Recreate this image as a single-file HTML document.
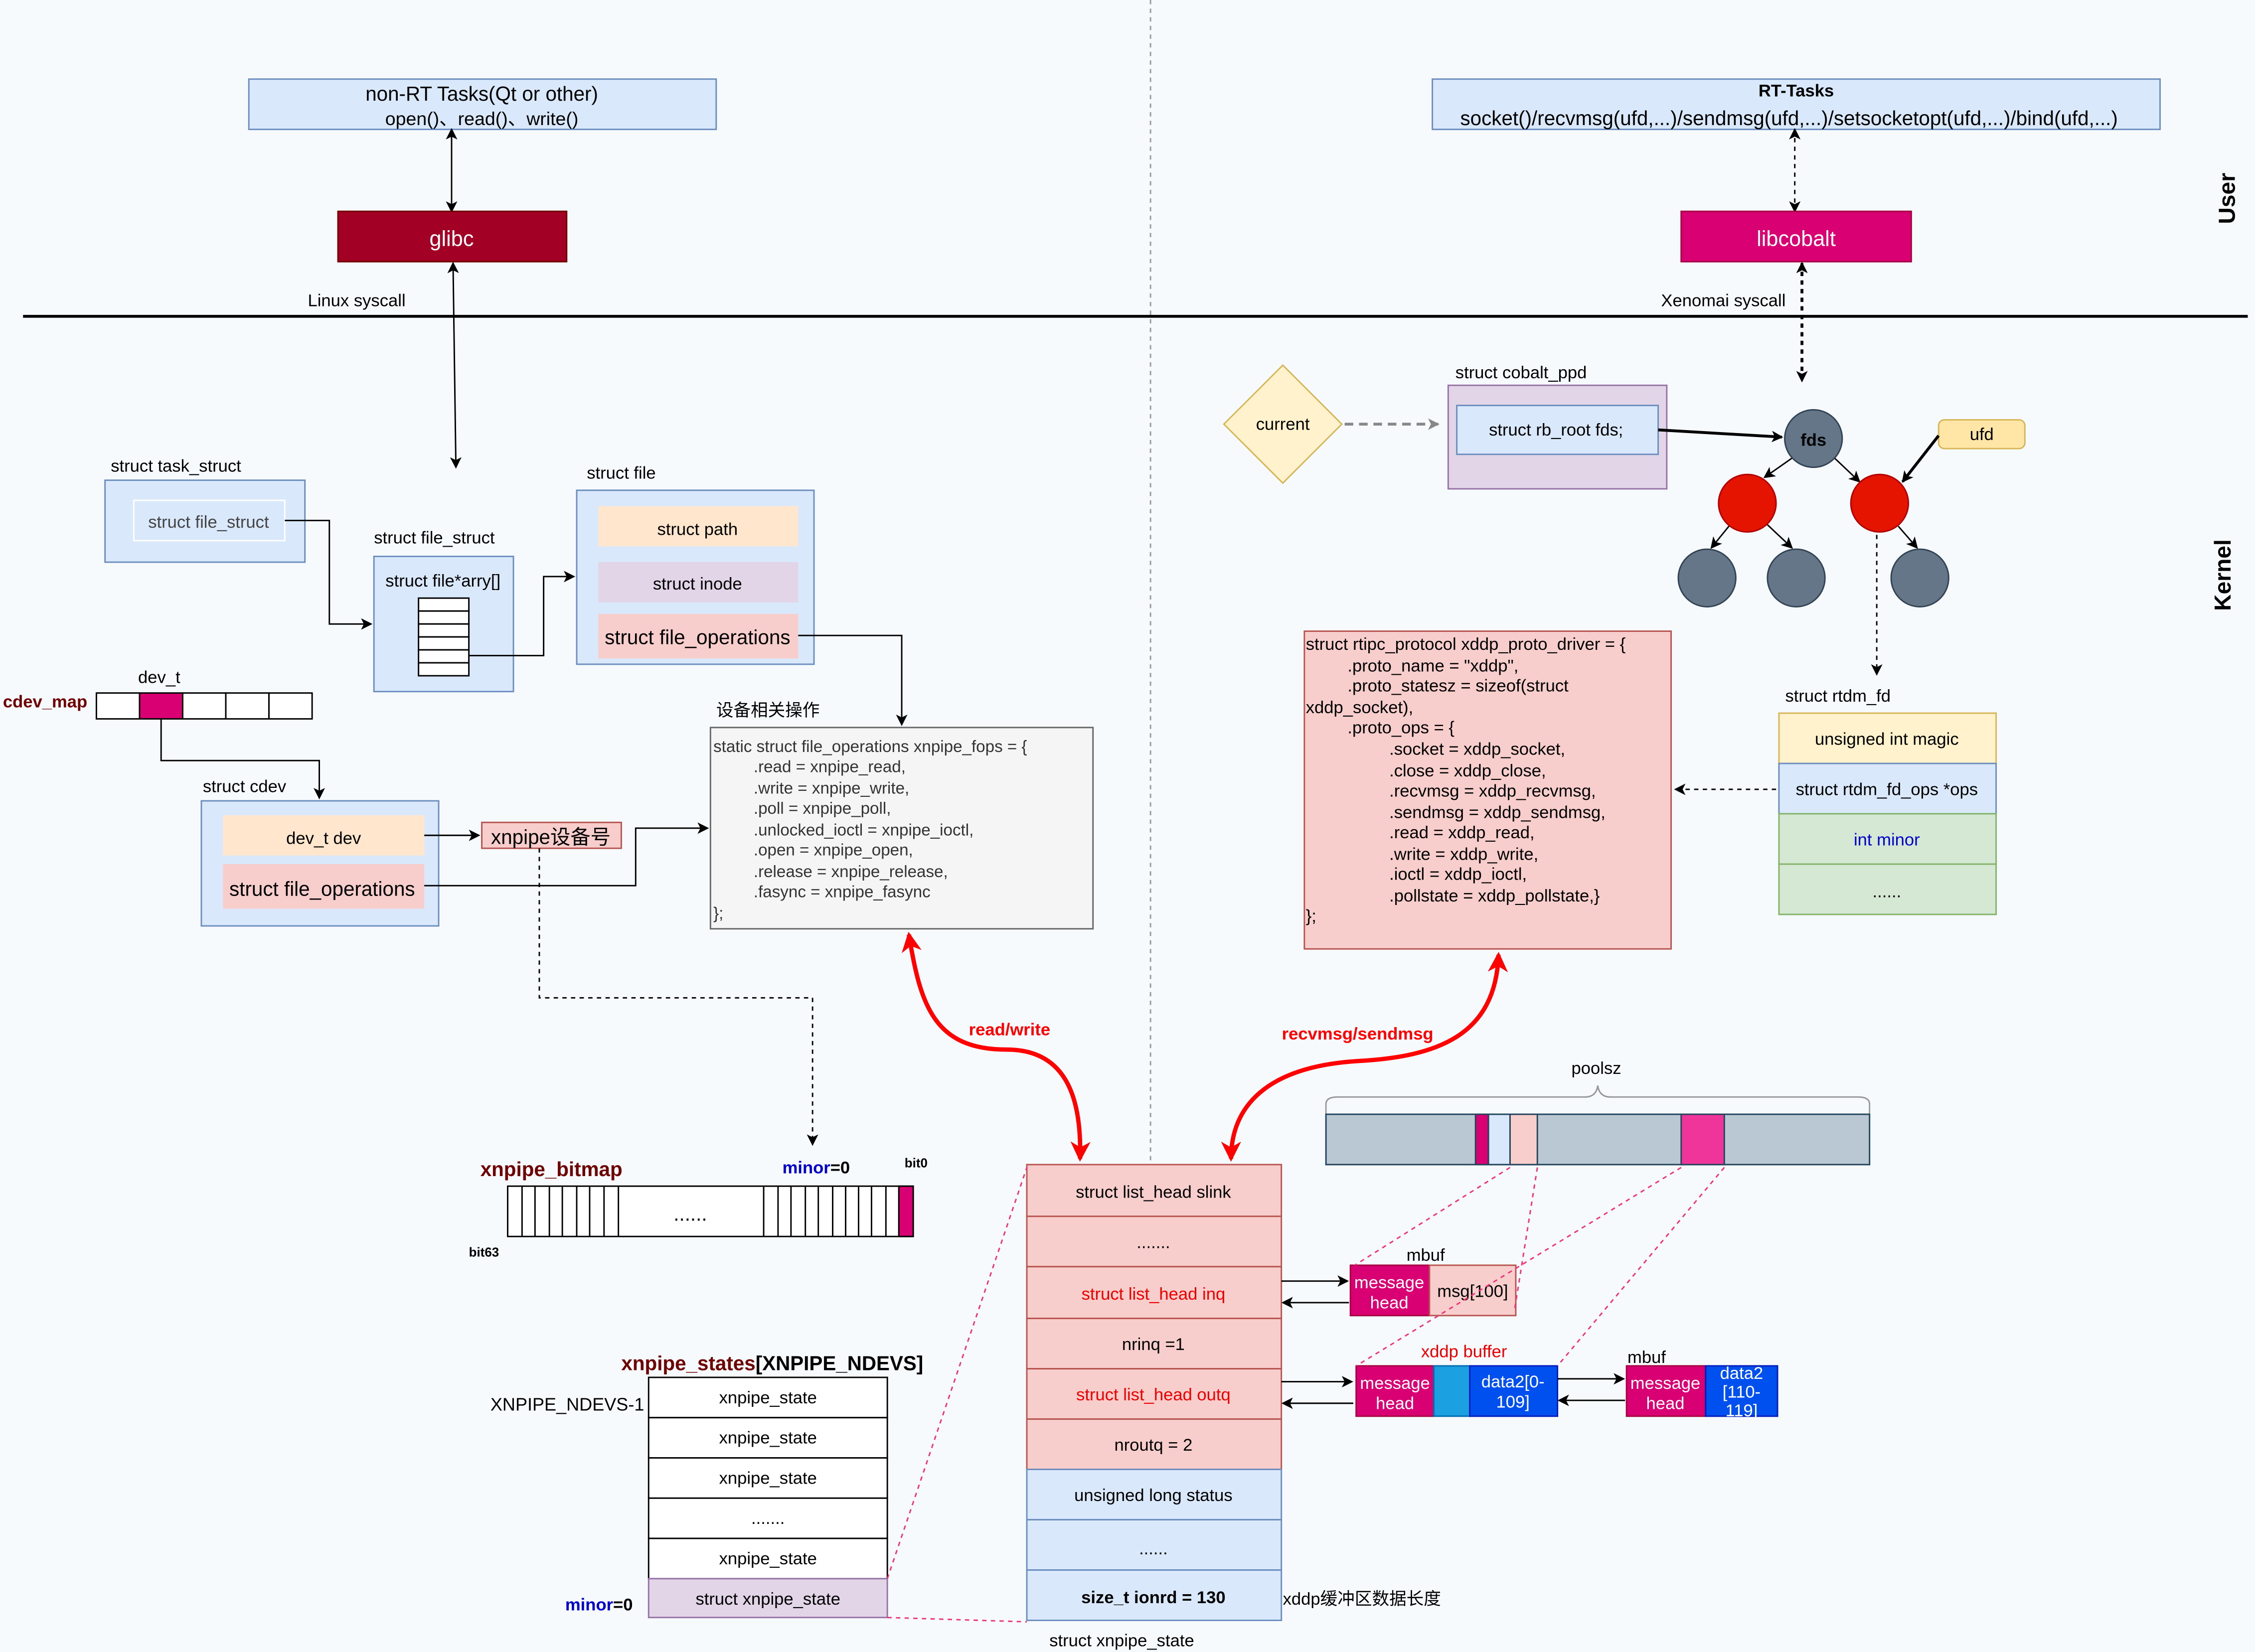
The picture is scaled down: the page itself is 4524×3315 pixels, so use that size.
<!DOCTYPE html>
<html><head><meta charset="utf-8"><style>
html,body{margin:0;padding:0;background:#f7fafd;}
svg{display:block;font-family:"Liberation Sans","Noto Sans CJK SC",sans-serif}
</style></head><body>
<svg width="4524" height="3315" viewBox="0 0 1568 1149" xmlns="http://www.w3.org/2000/svg" font-size="12" fill="#000">
<defs>
<marker id="a" markerWidth="8" markerHeight="8" refX="7" refY="4" orient="auto-start-reverse" markerUnits="userSpaceOnUse"><path d="M0,0 L8,4 L0,8 L2,4z" fill="#000"/></marker>
<marker id="g" markerWidth="8" markerHeight="8" refX="7" refY="4" orient="auto-start-reverse" markerUnits="userSpaceOnUse"><path d="M0,0 L8,4 L0,8 L2,4z" fill="#888"/></marker>
<marker id="r" markerWidth="14" markerHeight="14" refX="12" refY="7" orient="auto-start-reverse" markerUnits="userSpaceOnUse"><path d="M0,0 L14,7 L0,14 L4,7z" fill="#f00"/></marker>
</defs>
<rect width="1568" height="1149" fill="#f7fafd"/>
<line x1="800" y1="0" x2="800" y2="810" stroke="#999" stroke-dasharray="3,3"/>
<line x1="16" y1="220" x2="1563" y2="220" stroke="#000" stroke-width="2"/>
<text x="1554" y="138" font-weight="bold" font-size="16" transform="rotate(-90 1554 138)" text-anchor="middle">User</text>
<text x="1551" y="400" font-weight="bold" font-size="16" transform="rotate(-90 1551 400)" text-anchor="middle">Kernel</text>

<rect x="173" y="55" width="325" height="35" fill="#dae8fc" stroke="#6c8ebf"/>
<text x="335" y="70" text-anchor="middle" font-size="14">non-RT Tasks(Qt or other)</text>
<text x="335" y="87" text-anchor="middle" font-size="13">open()、read()、write()</text>
<line x1="314" y1="90" x2="314" y2="147" stroke="#000" marker-start="url(#a)" marker-end="url(#a)"/>
<rect x="235" y="147" width="159" height="35" fill="#a20025" stroke="#6f0000"/>
<text x="314" y="171" text-anchor="middle" font-size="15" fill="#fff">glibc</text>
<text x="214" y="213">Linux syscall</text>
<line x1="315" y1="183" x2="317" y2="325" stroke="#000" marker-start="url(#a)" marker-end="url(#a)"/>

<rect x="996" y="55" width="506" height="35" fill="#dae8fc" stroke="#6c8ebf"/>
<text x="1249" y="67" text-anchor="middle" font-weight="bold">RT-Tasks</text>
<text x="1244" y="87" text-anchor="middle" font-size="14">socket()/recvmsg(ufd,...)/sendmsg(ufd,...)/setsocketopt(ufd,...)/bind(ufd,...)</text>
<line x1="1248" y1="90" x2="1248" y2="147" stroke="#000" stroke-dasharray="3,3" marker-start="url(#a)" marker-end="url(#a)"/>
<rect x="1169" y="147" width="160" height="35" fill="#d80073" stroke="#a50040"/>
<text x="1249" y="171" text-anchor="middle" font-size="15" fill="#fff">libcobalt</text>
<text x="1155" y="213">Xenomai syscall</text>
<line x1="1253" y1="183" x2="1253" y2="265" stroke="#000" stroke-width="2" stroke-dasharray="3,3" marker-start="url(#a)" marker-end="url(#a)"/>

<text x="77" y="328">struct task_struct</text>
<rect x="73" y="334" width="139" height="57" fill="#dae8fc" stroke="#6c8ebf"/>
<rect x="93" y="348" width="105" height="28" fill="#dae8fc" stroke="#fff"/>
<text x="145" y="367" text-anchor="middle" fill="#444">struct file_struct</text>
<polyline points="198,362 229,362 229,434 258,434" fill="none" stroke="#000" marker-end="url(#a)"/>
<text x="260" y="378">struct file_struct</text>
<rect x="260" y="387" width="97" height="94" fill="#dae8fc" stroke="#6c8ebf"/>
<text x="308" y="408" text-anchor="middle">struct file*arry[]</text>
<g fill="#fff" stroke="#000">
<rect x="291" y="416" width="35" height="9"/><rect x="291" y="425" width="35" height="9"/><rect x="291" y="434" width="35" height="9"/><rect x="291" y="443" width="35" height="9"/><rect x="291" y="452" width="35" height="9"/><rect x="291" y="461" width="35" height="9"/>
</g>
<polyline points="326,456 378,456 378,401 399,401" fill="none" stroke="#000" marker-end="url(#a)"/>
<text x="408" y="333">struct file</text>
<rect x="401" y="341" width="165" height="121" fill="#dae8fc" stroke="#6c8ebf"/>
<rect x="416" y="352" width="139" height="28" fill="#ffe6cc"/>
<text x="485" y="372" text-anchor="middle">struct path</text>
<rect x="416" y="391" width="139" height="28" fill="#e1d5e7"/>
<text x="485" y="410" text-anchor="middle">struct inode</text>
<rect x="416" y="427" width="139" height="31" fill="#f8cecc"/>
<text x="485" y="448" text-anchor="middle" font-size="14">struct file_operations</text>
<polyline points="555,442 627,442 627,504" fill="none" stroke="#000" marker-end="url(#a)"/>

<text x="498" y="498">设备相关操作</text>
<rect x="494" y="506" width="266" height="140" fill="#f5f5f5" stroke="#666"/>
<g font-size="11.5" fill="#333">
<text x="496" y="523">static struct file_operations xnpipe_fops = {</text>
<text x="524" y="537">.read = xnpipe_read,</text>
<text x="524" y="552">.write = xnpipe_write,</text>
<text x="524" y="566">.poll = xnpipe_poll,</text>
<text x="524" y="581">.unlocked_ioctl = xnpipe_ioctl,</text>
<text x="524" y="595">.open = xnpipe_open,</text>
<text x="524" y="610">.release = xnpipe_release,</text>
<text x="524" y="624">.fasync = xnpipe_fasync</text>
<text x="496" y="639">};</text>
</g>

<text x="96" y="475">dev_t</text>
<text x="2" y="492" font-weight="bold" fill="#6f0000">cdev_map</text>
<g stroke="#000" fill="#fff">
<rect x="67" y="482" width="30" height="18"/><rect x="97" y="482" width="30" height="18" fill="#d80073"/><rect x="127" y="482" width="30" height="18"/><rect x="157" y="482" width="30" height="18"/><rect x="187" y="482" width="30" height="18"/>
</g>
<polyline points="112,500 112,529 222,529 222,555" fill="none" stroke="#000" marker-end="url(#a)"/>
<text x="141" y="551">struct cdev</text>
<rect x="140" y="557" width="165" height="87" fill="#dae8fc" stroke="#6c8ebf"/>
<rect x="155" y="567" width="140" height="28" fill="#ffe6cc"/>
<text x="225" y="587" text-anchor="middle">dev_t dev</text>
<rect x="155" y="601" width="140" height="31" fill="#f8cecc"/>
<text x="224" y="623" text-anchor="middle" font-size="14">struct file_operations</text>
<line x1="295" y1="581" x2="333" y2="581" stroke="#000" marker-end="url(#a)"/>
<rect x="335" y="572" width="97" height="18" fill="#f8cecc" stroke="#b85450"/>
<text x="383" y="587" text-anchor="middle" font-size="14">xnpipe设备号</text>
<polyline points="295,616 442,616 442,576 492,576" fill="none" stroke="#000" marker-end="url(#a)"/>
<polyline points="375,590 375,694 565,694 565,796" fill="none" stroke="#000" stroke-dasharray="3,3" marker-end="url(#a)"/>

<text x="334" y="818" font-weight="bold" font-size="14" fill="#6f0000">xnpipe_bitmap</text>
<text x="544" y="816" font-weight="bold" fill="#0000cc">minor<tspan fill="#000">=0</tspan></text>
<text x="629" y="812" font-weight="bold" font-size="9">bit0</text>
<text x="326" y="874" font-weight="bold" font-size="9">bit63</text>
<rect x="353" y="825" width="282" height="35" fill="#fff" stroke="#000"/>
<g stroke="#000">
<line x1="363" y1="825" x2="363" y2="860"/><line x1="372" y1="825" x2="372" y2="860"/><line x1="382" y1="825" x2="382" y2="860"/><line x1="391" y1="825" x2="391" y2="860"/><line x1="401" y1="825" x2="401" y2="860"/><line x1="410" y1="825" x2="410" y2="860"/><line x1="420" y1="825" x2="420" y2="860"/><line x1="430" y1="825" x2="430" y2="860"/>
<line x1="531" y1="825" x2="531" y2="860"/><line x1="541" y1="825" x2="541" y2="860"/><line x1="550" y1="825" x2="550" y2="860"/><line x1="560" y1="825" x2="560" y2="860"/><line x1="569" y1="825" x2="569" y2="860"/><line x1="579" y1="825" x2="579" y2="860"/><line x1="588" y1="825" x2="588" y2="860"/><line x1="597" y1="825" x2="597" y2="860"/><line x1="606" y1="825" x2="606" y2="860"/><line x1="616" y1="825" x2="616" y2="860"/><line x1="625" y1="825" x2="625" y2="860"/>
</g>
<rect x="625" y="825" width="10" height="35" fill="#d80073" stroke="#000"/>
<text x="480" y="849" text-anchor="middle" font-size="14">......</text>

<path d="M632,650 C640,700 650,730 700,730 C745,730 752,770 751,806" fill="none" stroke="#f00" stroke-width="3" marker-start="url(#r)" marker-end="url(#r)"/>
<text x="702" y="720" text-anchor="middle" font-weight="bold" fill="#f00">read/write</text>
<path d="M1042,664 C1040,720 1000,735 944,738 C880,742 856,770 856,806" fill="none" stroke="#f00" stroke-width="3" marker-start="url(#r)" marker-end="url(#r)"/>
<text x="944" y="723" text-anchor="middle" font-weight="bold" fill="#f00">recvmsg/sendmsg</text>

<g stroke="#b85450" fill="#f8cecc">
<rect x="714" y="810" width="177" height="36"/><rect x="714" y="846" width="177" height="35"/><rect x="714" y="881" width="177" height="36"/><rect x="714" y="917" width="177" height="35"/><rect x="714" y="952" width="177" height="35"/><rect x="714" y="987" width="177" height="35"/>
</g>
<g stroke="#6c8ebf" fill="#dae8fc">
<rect x="714" y="1022" width="177" height="35"/><rect x="714" y="1057" width="177" height="35"/><rect x="714" y="1092" width="177" height="35"/>
</g>
<g text-anchor="middle">
<text x="802" y="833">struct list_head slink</text>
<text x="802" y="868">.......</text>
<text x="802" y="904" fill="#e00">struct list_head inq</text>
<text x="802" y="939">nrinq =1</text>
<text x="802" y="974" fill="#e00">struct list_head outq</text>
<text x="802" y="1009">nroutq = 2</text>
<text x="802" y="1044">unsigned long status</text>
<text x="802" y="1081">......</text>
<text x="802" y="1115" font-weight="bold">size_t ionrd = 130</text>
</g>
<text x="892" y="1116">xddp缓冲区数据长度</text>
<text x="780" y="1145" text-anchor="middle">struct xnpipe_state</text>

<text x="432" y="953" font-weight="bold" font-size="14" fill="#6f0000">xnpipe_states<tspan fill="#000">[XNPIPE_NDEVS]</tspan></text>
<text x="341" y="981" font-size="12.5">XNPIPE_NDEVS-1</text>
<g fill="#fff" stroke="#000">
<rect x="451" y="958" width="166" height="28"/><rect x="451" y="986" width="166" height="28"/><rect x="451" y="1014" width="166" height="28"/><rect x="451" y="1042" width="166" height="28"/><rect x="451" y="1070" width="166" height="28"/>
</g>
<rect x="451" y="1098" width="166" height="27" fill="#e1d5e7" stroke="#9673a6"/>
<g text-anchor="middle">
<text x="534" y="976">xnpipe_state</text><text x="534" y="1004">xnpipe_state</text><text x="534" y="1032">xnpipe_state</text><text x="534" y="1060">.......</text><text x="534" y="1088">xnpipe_state</text><text x="534" y="1116">struct xnpipe_state</text>
</g>
<text x="393" y="1120" font-weight="bold" fill="#0000cc">minor<tspan fill="#000">=0</tspan></text>
<line x1="617" y1="1098" x2="714" y2="812" stroke="#f0347a" stroke-dasharray="3,3"/>
<line x1="617" y1="1125" x2="714" y2="1128" stroke="#f0347a" stroke-dasharray="3,3"/>

<line x1="891" y1="891" x2="937" y2="891" stroke="#000" marker-end="url(#a)"/>
<line x1="938" y1="906" x2="892" y2="906" stroke="#000" marker-end="url(#a)"/>
<text x="978" y="877">mbuf</text>
<rect x="939" y="880" width="55" height="35" fill="#d80073" stroke="#a50040"/>
<text x="966" y="896" text-anchor="middle" fill="#fff">message</text><text x="966" y="910" text-anchor="middle" fill="#fff">head</text>
<rect x="994" y="880" width="60" height="35" fill="#f8cecc" stroke="#b85450"/>
<text x="1024" y="902" text-anchor="middle">msg[100]</text>

<line x1="891" y1="961" x2="940" y2="961" stroke="#000" marker-end="url(#a)"/>
<line x1="941" y1="976" x2="892" y2="976" stroke="#000" marker-end="url(#a)"/>
<text x="1018" y="944" text-anchor="middle" fill="#e00">xddp buffer</text>
<rect x="943" y="950" width="54" height="35" fill="#d80073" stroke="#a50040"/>
<text x="970" y="966" text-anchor="middle" fill="#fff">message</text><text x="970" y="980" text-anchor="middle" fill="#fff">head</text>
<rect x="997" y="950" width="25" height="35" fill="#1ba1e2" stroke="#006eaf"/>
<rect x="1022" y="950" width="61" height="35" fill="#0050ef" stroke="#001dbc"/>
<text x="1052" y="965" text-anchor="middle" fill="#fff">data2[0-</text><text x="1052" y="979" text-anchor="middle" fill="#fff">109]</text>
<line x1="1083" y1="959" x2="1129" y2="959" stroke="#000" marker-end="url(#a)"/>
<line x1="1130" y1="974" x2="1084" y2="974" stroke="#000" marker-end="url(#a)"/>
<text x="1145" y="948" text-anchor="middle">mbuf</text>
<rect x="1131" y="950" width="55" height="35" fill="#d80073" stroke="#a50040"/>
<text x="1158" y="966" text-anchor="middle" fill="#fff">message</text><text x="1158" y="980" text-anchor="middle" fill="#fff">head</text>
<rect x="1186" y="950" width="50" height="35" fill="#0050ef" stroke="#001dbc"/>
<text x="1211" y="959" text-anchor="middle" fill="#fff">data2</text><text x="1211" y="972" text-anchor="middle" fill="#fff">[110-</text><text x="1211" y="985" text-anchor="middle" fill="#fff">119]</text>

<text x="1110" y="747" text-anchor="middle">poolsz</text>
<path d="M922,775 L922,768 Q922,763 930,763 L1102,763 Q1110,763 1111,755 Q1112,763 1120,763 L1292,763 Q1300,763 1300,768 L1300,775" fill="none" stroke="#999"/>
<rect x="922" y="775" width="378" height="35" fill="#bac8d3" stroke="#23445d"/>
<rect x="1026" y="775" width="9" height="35" fill="#d80073" stroke="#23445d"/>
<rect x="1035" y="775" width="15" height="35" fill="#dae8fc" stroke="#23445d"/>
<rect x="1050" y="775" width="19" height="35" fill="#f8cecc" stroke="#23445d"/>
<rect x="1169" y="775" width="30" height="35" fill="#f0359a" stroke="#23445d"/>
<g stroke="#f0347a" stroke-dasharray="3,3">
<line x1="1050" y1="812" x2="942" y2="880"/><line x1="1069" y1="812" x2="1053" y2="912"/><line x1="1169" y1="812" x2="943" y2="950"/><line x1="1199" y1="812" x2="1083" y2="950"/>
</g>

<polygon points="892,254 933,295 892,336 851,295" fill="#fff2cc" stroke="#d6b656"/>
<text x="892" y="299" text-anchor="middle">current</text>
<line x1="935" y1="295" x2="1000" y2="295" stroke="#888" stroke-width="2" stroke-dasharray="6,4" marker-end="url(#g)"/>
<text x="1012" y="263">struct cobalt_ppd</text>
<rect x="1007" y="268" width="152" height="72" fill="#e1d5e7" stroke="#9673a6"/>
<rect x="1013" y="282" width="140" height="34" fill="#dae8fc" stroke="#6c8ebf"/>
<text x="1082" y="303" text-anchor="middle">struct rb_root fds;</text>
<line x1="1153" y1="299" x2="1239" y2="304" stroke="#000" stroke-width="2" marker-end="url(#a)"/>
<rect x="1348" y="292" width="60" height="20" rx="4" fill="#ffe6a6" stroke="#d6b656"/>
<text x="1378" y="306" text-anchor="middle">ufd</text>
<line x1="1348" y1="303" x2="1323" y2="335" stroke="#000" stroke-width="2" marker-end="url(#a)"/>
<g stroke="#000">
<line x1="1247" y1="318" x2="1227" y2="332" marker-end="url(#a)"/><line x1="1275" y1="318" x2="1293" y2="335" marker-end="url(#a)"/>
<line x1="1203" y1="365" x2="1190" y2="381" marker-end="url(#a)"/><line x1="1229" y1="365" x2="1246" y2="381" marker-end="url(#a)"/>
<line x1="1320" y1="366" x2="1333" y2="381" marker-end="url(#a)"/>
</g>
<circle cx="1261" cy="305" r="20" fill="#647687" stroke="#314354"/>
<text x="1261" y="310" text-anchor="middle" font-weight="bold">fds</text>
<circle cx="1215" cy="350" r="20" fill="#e51400" stroke="#b20000"/>
<circle cx="1307" cy="350" r="20" fill="#e51400" stroke="#b20000"/>
<circle cx="1187" cy="402" r="20" fill="#647687" stroke="#314354"/>
<circle cx="1249" cy="402" r="20" fill="#647687" stroke="#314354"/>
<circle cx="1335" cy="402" r="20" fill="#647687" stroke="#314354"/>
<line x1="1305" y1="372" x2="1305" y2="469" stroke="#000" stroke-dasharray="3,3" marker-end="url(#a)"/>
<text x="1278" y="488" text-anchor="middle">struct rtdm_fd</text>
<rect x="1237" y="496" width="151" height="35" fill="#fff2cc" stroke="#d6b656"/>
<rect x="1237" y="531" width="151" height="35" fill="#dae8fc" stroke="#6c8ebf"/>
<rect x="1237" y="566" width="151" height="35" fill="#d5e8d4" stroke="#82b366"/>
<rect x="1237" y="601" width="151" height="35" fill="#d5e8d4" stroke="#82b366"/>
<g text-anchor="middle">
<text x="1312" y="518">unsigned int magic</text>
<text x="1312" y="553">struct rtdm_fd_ops *ops</text>
<text x="1312" y="588" fill="#0000cc">int minor</text>
<text x="1312" y="624">......</text>
</g>
<line x1="1235" y1="549" x2="1165" y2="549" stroke="#000" stroke-dasharray="3,3" marker-end="url(#a)"/>
<rect x="907" y="439" width="255" height="221" fill="#f8cecc" stroke="#b85450"/>
<g>
<text x="908" y="452">struct rtipc_protocol xddp_proto_driver = {</text>
<text x="937" y="467">.proto_name = "xddp",</text>
<text x="937" y="481">.proto_statesz = sizeof(struct</text>
<text x="908" y="496">xddp_socket),</text>
<text x="937" y="510">.proto_ops = {</text>
<text x="966" y="525">.socket = xddp_socket,</text>
<text x="966" y="540">.close = xddp_close,</text>
<text x="966" y="554">.recvmsg = xddp_recvmsg,</text>
<text x="966" y="569">.sendmsg = xddp_sendmsg,</text>
<text x="966" y="583">.read = xddp_read,</text>
<text x="966" y="598">.write = xddp_write,</text>
<text x="966" y="612">.ioctl = xddp_ioctl,</text>
<text x="966" y="627">.pollstate = xddp_pollstate,}</text>
<text x="908" y="641">};</text>
</g>
</svg>
</body></html>
